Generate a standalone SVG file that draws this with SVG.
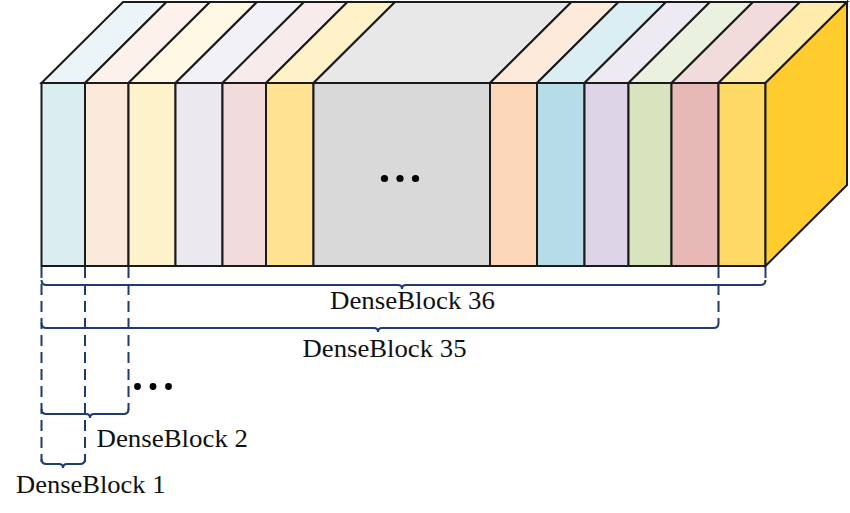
<svg xmlns="http://www.w3.org/2000/svg" width="850" height="513" viewBox="0 0 850 513">
<style>
.f{stroke:#1a1a1a;stroke-width:2;stroke-linejoin:miter}
.br{fill:none;stroke:#1F3B70;stroke-width:2}
.ds{fill:none;stroke:#1F3B70;stroke-width:2;stroke-dasharray:11 6}
.t{font-family:"Liberation Serif","Times New Roman",Times,serif;font-size:25px;fill:#111}
.dot{fill:#000}
</style>
<rect width="850" height="513" fill="#fff"/>
<g id="slice1"><polygon class="f" fill="#EBF5F8" points="41.5,83 123,2 166.5,2 85,83"/><rect class="f" fill="#DAEDF1" x="41.5" y="83" width="43.5" height="183"/></g>
<g id="slice2"><polygon class="f" fill="#FCF2EB" points="85,83 166.5,2 210,2 128.5,83"/><rect class="f" fill="#FBE9DB" x="85" y="83" width="43.5" height="183"/></g>
<g id="slice3"><polygon class="f" fill="#FEF8E4" points="128.5,83 210,2 257,2 175.5,83"/><rect class="f" fill="#FEF2CB" x="128.5" y="83" width="47" height="183"/></g>
<g id="slice4"><polygon class="f" fill="#F3F1F8" points="175.5,83 257,2 304,2 222.5,83"/><rect class="f" fill="#EBE8F0" x="175.5" y="83" width="47" height="183"/></g>
<g id="slice5"><polygon class="f" fill="#F8EBEB" points="222.5,83 304,2 347.5,2 266,83"/><rect class="f" fill="#F2DBDB" x="222.5" y="83" width="43.5" height="183"/></g>
<g id="slice6"><polygon class="f" fill="#FFF1C8" points="266,83 347.5,2 395,2 313.5,83"/><rect class="f" fill="#FFE393" x="266" y="83" width="47.5" height="183"/></g>
<g id="slice7"><polygon class="f" fill="#E8E8E8" points="313.5,83 395,2 571.5,2 490,83"/><rect class="f" fill="#D9D9D9" x="313.5" y="83" width="176.5" height="183"/>
<circle class="dot" cx="384.5" cy="178.5" r="3.6"/><circle class="dot" cx="400" cy="178.5" r="3.6"/><circle class="dot" cx="415.5" cy="178.5" r="3.6"/></g>
<g id="slice8"><polygon class="f" fill="#FDEADA" points="490,83 571.5,2 618.5,2 537,83"/><rect class="f" fill="#FBD6B8" x="490" y="83" width="47" height="183"/></g>
<g id="slice9"><polygon class="f" fill="#DBEEF3" points="537,83 618.5,2 666,2 584.5,83"/><rect class="f" fill="#B6DDE7" x="537" y="83" width="47.5" height="183"/></g>
<g id="slice10"><polygon class="f" fill="#EEEAF2" points="584.5,83 666,2 710,2 628.5,83"/><rect class="f" fill="#DDD5E7" x="584.5" y="83" width="44" height="183"/></g>
<g id="slice11"><polygon class="f" fill="#EAF1DE" points="628.5,83 710,2 753,2 671.5,83"/><rect class="f" fill="#D8E4BD" x="628.5" y="83" width="43" height="183"/></g>
<g id="slice12"><polygon class="f" fill="#F2DCDB" points="671.5,83 753,2 800,2 718.5,83"/><rect class="f" fill="#E6B8B6" x="671.5" y="83" width="47" height="183"/></g>
<g id="slice13"><polygon class="f" fill="#FFEBAB" points="718.5,83 800,2 847,2 765.5,83"/><rect class="f" fill="#FFD966" x="718.5" y="83" width="47" height="183"/>
<polygon class="f" fill="#FFCC2E" points="765.5,83 847,2 847,185 765.5,266"/></g>
<g id="connectors">
<line class="ds" x1="41.5" y1="267" x2="41.5" y2="462"/>
<line class="ds" x1="85" y1="267" x2="85" y2="462"/>
<line class="ds" x1="128.5" y1="267" x2="128.5" y2="410"/>
<line class="ds" x1="718.5" y1="267" x2="718.5" y2="323"/>
<line class="ds" x1="765.5" y1="267" x2="765.5" y2="280"/>
<path class="br" d="M41.5,280 q0,5 5,5 H398 q4,0 4,4 q0,-4 4,-4 H760.5 q5,0 5,-5"/>
<path class="br" d="M41.5,323 q0,5 5,5 H374 q4,0 4,4 q0,-4 4,-4 H713.5 q5,0 5,-5"/>
<path class="br" d="M41.5,409 q0,5 5,5 H86 q4,0 4,4 q0,-4 4,-4 H123.5 q5,0 5,-5"/>
<path class="br" d="M41.5,459 q0,5 5,5 H59 q4,0 4,4 q0,-4 4,-4 H80 q5,0 5,-5"/>
</g>
<g id="dots2"><circle class="dot" cx="137.5" cy="386.5" r="3.4"/><circle class="dot" cx="153" cy="386.5" r="3.4"/><circle class="dot" cx="168.5" cy="386.5" r="3.4"/></g>
<g id="labels">
<text class="t" x="330" y="308.5" textLength="165" lengthAdjust="spacingAndGlyphs">DenseBlock 36</text>
<text class="t" x="302.5" y="356.5" textLength="164" lengthAdjust="spacingAndGlyphs">DenseBlock 35</text>
<text class="t" x="96.5" y="447" textLength="151.5" lengthAdjust="spacingAndGlyphs">DenseBlock 2</text>
<text class="t" x="16" y="492.5" textLength="149.5" lengthAdjust="spacingAndGlyphs">DenseBlock 1</text>
</g>
</svg>
